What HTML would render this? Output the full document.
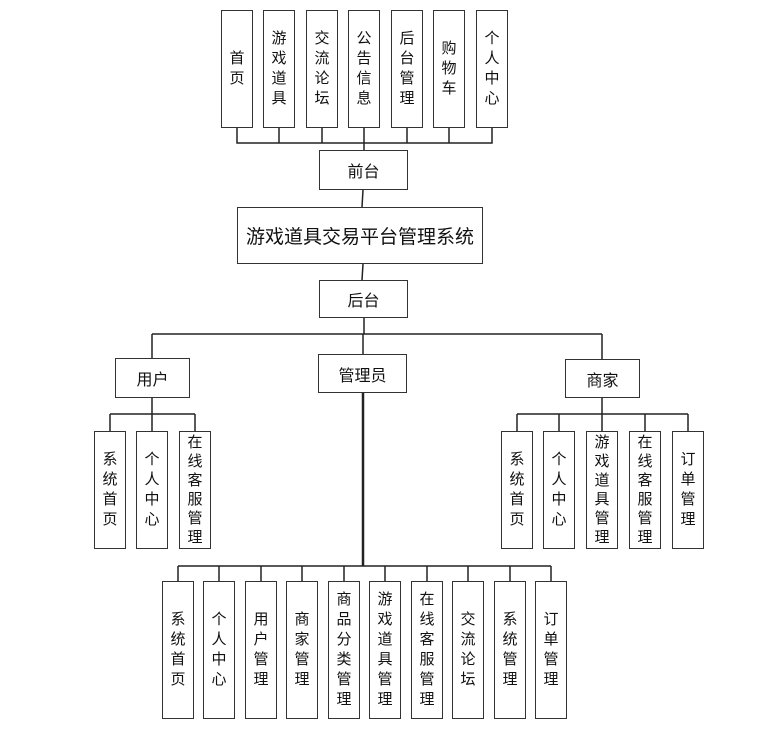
<!DOCTYPE html>
<html><head><meta charset="utf-8"><style>
body{margin:0;width:780px;height:730px;background:#fff;position:relative;overflow:hidden;font-family:"Liberation Sans","Noto Sans CJK SC",sans-serif;color:#111}
.b{position:absolute;box-sizing:border-box;border:1.5px solid #333;background:#fff;display:flex;align-items:center;justify-content:center;font-size:15px}
.v{width:15px;word-break:break-all;line-height:20px;font-size:15px;text-align:center;white-space:normal}
.s{line-height:19px}
svg{position:absolute;left:0;top:0}
</style></head><body>
<svg width="780" height="730" stroke="#222" fill="none" stroke-width="1.5">
<path d="M237 128V143H492V128 M279 128V143 M322 128V143 M364 128V143 M407 128V143 M449 128V143 M364 143V150"/>
<path d="M363 190L362 207 M363 264L362 280 M364 318V334 M152 334H602 M152 334V358 M602 334V359 M363 334V354"/>
<path d="M363 393V566" stroke-width="2.5"/>
<path d="M152 398V414 M110 414H195 M110 414V431 M152 414V431 M195 414V431"/>
<path d="M602 398V414 M517 414H688 M517 414V431 M559 414V431 M602 414V431 M645 414V431 M688 414V431"/>
<path d="M178 566H551 M178 566V581 M219 566V581 M261 566V581 M302 566V581 M344 566V581 M385 566V581 M427 566V581 M468 566V581 M510 566V581 M551 566V581"/>
</svg>
<div class="b" style="left:221px;top:10px;width:32px;height:118px"><div class="v">首页</div></div>
<div class="b" style="left:263px;top:10px;width:32px;height:118px"><div class="v">游戏道具</div></div>
<div class="b" style="left:306px;top:10px;width:32px;height:118px"><div class="v">交流论坛</div></div>
<div class="b" style="left:348px;top:10px;width:32px;height:118px"><div class="v">公告信息</div></div>
<div class="b" style="left:391px;top:10px;width:32px;height:118px"><div class="v">后台管理</div></div>
<div class="b" style="left:433px;top:10px;width:32px;height:118px"><div class="v">购物车</div></div>
<div class="b" style="left:476px;top:10px;width:32px;height:118px"><div class="v">个人中心</div></div>
<div class="b" style="left:319px;top:150px;width:89px;height:40px;font-size:16px">前台</div>
<div class="b" style="left:237px;top:207px;width:246px;height:57px;font-size:19px">游戏道具交易平台管理系统</div>
<div class="b" style="left:319px;top:280px;width:89px;height:38px;font-size:16px">后台</div>
<div class="b" style="left:115px;top:358px;width:75px;height:40px;font-size:16px">用户</div>
<div class="b" style="left:318px;top:354px;width:89px;height:39px;font-size:16px">管理员</div>
<div class="b" style="left:565px;top:359px;width:75px;height:39px;font-size:16px">商家</div>
<div class="b" style="left:94px;top:431px;width:32px;height:118px"><div class="v">系统首页</div></div>
<div class="b" style="left:136px;top:431px;width:32px;height:118px"><div class="v">个人中心</div></div>
<div class="b" style="left:179px;top:431px;width:32px;height:118px"><div class="v s">在线客服管理</div></div>
<div class="b" style="left:501px;top:431px;width:32px;height:118px"><div class="v">系统首页</div></div>
<div class="b" style="left:543px;top:431px;width:32px;height:118px"><div class="v">个人中心</div></div>
<div class="b" style="left:586px;top:431px;width:32px;height:118px"><div class="v s">游戏道具管理</div></div>
<div class="b" style="left:629px;top:431px;width:32px;height:118px"><div class="v s">在线客服管理</div></div>
<div class="b" style="left:672px;top:431px;width:32px;height:118px"><div class="v">订单管理</div></div>
<div class="b" style="left:162px;top:581px;width:32px;height:138px"><div class="v">系统首页</div></div>
<div class="b" style="left:203px;top:581px;width:32px;height:138px"><div class="v">个人中心</div></div>
<div class="b" style="left:245px;top:581px;width:32px;height:138px"><div class="v">用户管理</div></div>
<div class="b" style="left:286px;top:581px;width:32px;height:138px"><div class="v">商家管理</div></div>
<div class="b" style="left:328px;top:581px;width:32px;height:138px"><div class="v">商品分类管理</div></div>
<div class="b" style="left:369px;top:581px;width:32px;height:138px"><div class="v">游戏道具管理</div></div>
<div class="b" style="left:411px;top:581px;width:32px;height:138px"><div class="v">在线客服管理</div></div>
<div class="b" style="left:452px;top:581px;width:32px;height:138px"><div class="v">交流论坛</div></div>
<div class="b" style="left:494px;top:581px;width:32px;height:138px"><div class="v">系统管理</div></div>
<div class="b" style="left:535px;top:581px;width:32px;height:138px"><div class="v">订单管理</div></div>
</body></html>
